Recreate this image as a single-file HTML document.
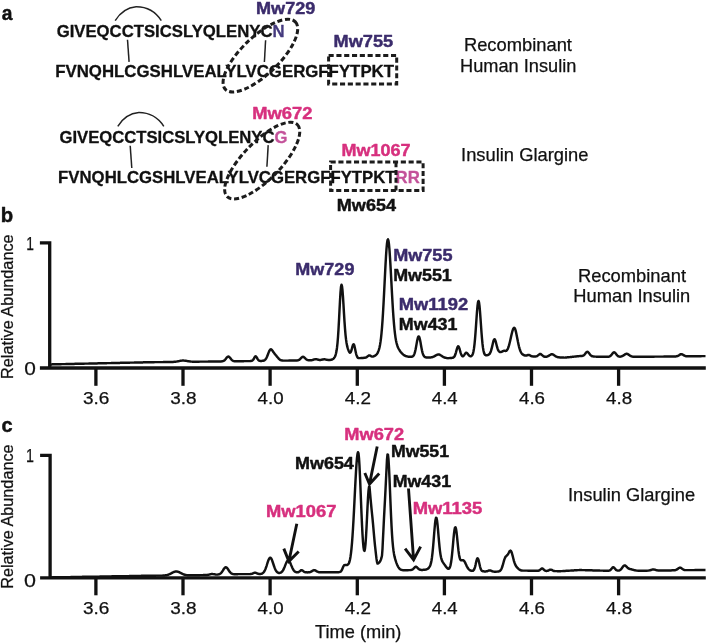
<!DOCTYPE html>
<html><head><meta charset="utf-8"><title>Figure</title>
<style>html,body{margin:0;padding:0;background:#fff}svg{display:block;filter:blur(0.35px)} text{stroke-width:0.25px;stroke-linejoin:round} text[font-weight=bold]{stroke-width:0.45px} text.sq{stroke-width:0.3px}</style></head>
<body>
<svg width="709" height="643" viewBox="0 0 709 643" font-family="'Liberation Sans', Arial, Helvetica, sans-serif" fill="#111111">
<rect width="709" height="643" fill="#fff"/>
<!-- panel a -->
<text x="1.64" y="19.8" font-size="20" font-weight="bold" fill="#111111" stroke="#111111" textLength="10.68" lengthAdjust="spacingAndGlyphs">a</text>
<text x="56.66" y="36.9" font-size="16.5" font-weight="bold" fill="#111111" stroke="#111111" textLength="227.90" lengthAdjust="spacingAndGlyphs" class="sq">GIVEQCCTSICSLYQLENYC<tspan fill="#453a7e" stroke="#453a7e">N</tspan></text>
<text x="55.24" y="76.8" font-size="16.5" font-weight="bold" fill="#111111" stroke="#111111" textLength="338.78" lengthAdjust="spacingAndGlyphs" class="sq">FVNQHLCGSHLVEALYLVCGERGFFYTPKT</text>
<text x="59.47" y="142.6" font-size="16.5" font-weight="bold" fill="#111111" stroke="#111111" textLength="228.01" lengthAdjust="spacingAndGlyphs" class="sq">GIVEQCCTSICSLYQLENYC<tspan fill="#c4529a" stroke="#c4529a">G</tspan></text>
<text x="58.14" y="183.0" font-size="16.5" font-weight="bold" fill="#111111" stroke="#111111" textLength="361.65" lengthAdjust="spacingAndGlyphs" class="sq">FVNQHLCGSHLVEALYLVCGERGFFYTPKT<tspan fill="#c4529a" stroke="#c4529a">RR</tspan></text>
<g fill="none" stroke="#222" stroke-width="1.5">
<path d="M115.2 20.6 C120.5 12 128 7.4 136.1 6.7 C146 6.6 155.5 11.5 161.3 20.6"/>
<path d="M127.5 39.8 L129.1 61.9"/>
<path d="M265.6 40.2 L264.4 62"/>
<path d="M117.8 126.3 C123 117.8 130.5 113.2 138.8 112.5 C148.5 112.4 158 117.3 163.8 126.3"/>
<path d="M130.2 145.7 L131.8 168"/>
<path d="M268.2 145.1 L266.9 166.8"/>
</g>
<g fill="none" stroke="#1c1c1c" stroke-width="3" stroke-dasharray="5.1 2.7">
<ellipse cx="260.4" cy="55.6" rx="48.6" ry="18.8" transform="rotate(-44 260.4 55.6)"/>
<ellipse cx="262.2" cy="160.6" rx="50.3" ry="18.8" transform="rotate(-45.8 262.2 160.6)"/>
<rect x="328.6" y="55.5" width="68.1" height="28.5"/>
<rect x="330.6" y="162.1" width="92.5" height="28.5"/>
<path d="M396 162.1 V190.6"/>
</g>
<text x="256.06" y="14.1" font-size="16.5" font-weight="bold" fill="#3b2c6c" stroke="#3b2c6c" textLength="59.25" lengthAdjust="spacingAndGlyphs">Mw729</text>
<text x="333.55" y="47.2" font-size="16.5" font-weight="bold" fill="#3b2c6c" stroke="#3b2c6c" textLength="59.60" lengthAdjust="spacingAndGlyphs">Mw755</text>
<text x="252.34" y="119.4" font-size="16.5" font-weight="bold" fill="#d7307e" stroke="#d7307e" textLength="60.13" lengthAdjust="spacingAndGlyphs">Mw672</text>
<text x="341.46" y="156.4" font-size="16.5" font-weight="bold" fill="#d7307e" stroke="#d7307e" textLength="69.07" lengthAdjust="spacingAndGlyphs">Mw1067</text>
<text x="336.86" y="210.5" font-size="16.5" font-weight="bold" fill="#111111" stroke="#111111" textLength="59.08" lengthAdjust="spacingAndGlyphs">Mw654</text>
<text x="463.95" y="51.0" font-size="17.8" fill="#111111" stroke="#111111" textLength="108.03" lengthAdjust="spacingAndGlyphs">Recombinant</text>
<text x="460.06" y="71.7" font-size="17.8" fill="#111111" stroke="#111111" textLength="116.36" lengthAdjust="spacingAndGlyphs">Human Insulin</text>
<text x="461.06" y="160.5" font-size="17.8" fill="#111111" stroke="#111111" textLength="127.40" lengthAdjust="spacingAndGlyphs">Insulin Glargine</text>
<!-- panel b -->
<text x="0.88" y="222.2" font-size="19.5" font-weight="bold" fill="#111111" stroke="#111111" textLength="12.40" lengthAdjust="spacingAndGlyphs">b</text>
<g stroke="#111111" stroke-width="3.3" fill="none" stroke-linecap="butt">
<path d="M39.9 242.9 H49.7 M49.7 241.3 V368 M39.9 368 H705.8"/>
<line x1="95.9" y1="368" x2="95.9" y2="385.8"/>
<line x1="183.0" y1="368" x2="183.0" y2="385.8"/>
<line x1="270.1" y1="368" x2="270.1" y2="385.8"/>
<line x1="357.3" y1="368" x2="357.3" y2="385.8"/>
<line x1="444.4" y1="368" x2="444.4" y2="385.8"/>
<line x1="531.5" y1="368" x2="531.5" y2="385.8"/>
<line x1="618.6" y1="368" x2="618.6" y2="385.8"/>
<path d="M40.1 455.3 H50.1 M50.1 453.7 V577.95 M40.1 577.95 H705.8"/>
<line x1="95.9" y1="577.95" x2="95.9" y2="595.3"/>
<line x1="183.0" y1="577.95" x2="183.0" y2="595.3"/>
<line x1="270.1" y1="577.95" x2="270.1" y2="595.3"/>
<line x1="357.3" y1="577.95" x2="357.3" y2="595.3"/>
<line x1="444.4" y1="577.95" x2="444.4" y2="595.3"/>
<line x1="531.5" y1="577.95" x2="531.5" y2="595.3"/>
<line x1="618.6" y1="577.95" x2="618.6" y2="595.3"/>
</g>
<g fill="none" stroke="#111111" stroke-width="2.45" stroke-linejoin="round">
<path d="M50.5 364.4 L51.0 364.4 L51.5 364.4 L52.0 364.4 L52.5 364.3 L53.0 364.3 L53.5 364.3 L54.0 364.3 L54.5 364.3 L55.0 364.3 L55.5 364.3 L56.0 364.3 L56.5 364.3 L57.0 364.2 L57.5 364.2 L58.0 364.2 L58.5 364.2 L59.0 364.2 L59.5 364.2 L60.0 364.2 L60.5 364.2 L61.0 364.2 L61.5 364.1 L62.0 364.1 L62.5 364.1 L63.0 364.1 L63.5 364.1 L64.0 364.1 L64.5 364.1 L65.0 364.1 L65.5 364.1 L66.0 364.0 L66.5 364.0 L67.0 364.0 L67.5 364.0 L68.0 364.0 L68.5 364.0 L69.0 364.0 L69.5 364.0 L70.0 364.0 L70.5 363.9 L71.0 363.9 L71.5 363.9 L72.0 363.9 L72.5 363.9 L73.0 363.9 L73.5 363.9 L74.0 363.9 L74.5 363.9 L75.0 363.8 L75.5 363.8 L76.0 363.8 L76.5 363.8 L77.0 363.8 L77.5 363.8 L78.0 363.8 L78.5 363.8 L79.0 363.8 L79.5 363.8 L80.0 363.7 L80.5 363.7 L81.0 363.7 L81.5 363.7 L82.0 363.7 L82.5 363.7 L83.0 363.7 L83.5 363.7 L84.0 363.7 L84.5 363.6 L85.0 363.6 L85.5 363.6 L86.0 363.6 L86.5 363.6 L87.0 363.6 L87.5 363.6 L88.0 363.6 L88.5 363.6 L89.0 363.5 L89.5 363.5 L90.0 363.5 L90.5 363.5 L91.0 363.5 L91.5 363.5 L92.0 363.5 L92.5 363.5 L93.0 363.5 L93.5 363.4 L94.0 363.4 L94.5 363.4 L95.0 363.4 L95.5 363.4 L96.0 363.4 L96.5 363.4 L97.0 363.4 L97.5 363.4 L98.0 363.3 L98.5 363.3 L99.0 363.3 L99.5 363.3 L100.0 363.3 L100.5 363.3 L101.0 363.3 L101.5 363.3 L102.0 363.3 L102.5 363.2 L103.0 363.2 L103.5 363.2 L104.0 363.2 L104.5 363.2 L105.0 363.2 L105.5 363.2 L106.0 363.2 L106.5 363.2 L107.0 363.1 L107.5 363.1 L108.0 363.1 L108.5 363.1 L109.0 363.1 L109.5 363.1 L110.0 363.1 L110.5 363.1 L111.0 363.1 L111.5 363.0 L112.0 363.0 L112.5 363.0 L113.0 363.0 L113.5 363.0 L114.0 363.0 L114.5 363.0 L115.0 363.0 L115.5 363.0 L116.0 362.9 L116.5 362.9 L117.0 362.9 L117.5 362.9 L118.0 362.9 L118.5 362.9 L119.0 362.9 L119.5 362.9 L120.0 362.9 L120.5 362.8 L121.0 362.8 L121.5 362.8 L122.0 362.8 L122.5 362.8 L123.0 362.8 L123.5 362.8 L124.0 362.8 L124.5 362.8 L125.0 362.8 L125.5 362.7 L126.0 362.7 L126.5 362.7 L127.0 362.7 L127.5 362.7 L128.0 362.7 L128.5 362.7 L129.0 362.7 L129.5 362.7 L130.0 362.6 L130.5 362.6 L131.0 362.6 L131.5 362.6 L132.0 362.6 L132.5 362.6 L133.0 362.6 L133.5 362.6 L134.0 362.6 L134.5 362.5 L135.0 362.5 L135.5 362.5 L136.0 362.5 L136.5 362.5 L137.0 362.5 L137.5 362.5 L138.0 362.5 L138.5 362.5 L139.0 362.4 L139.5 362.4 L140.0 362.4 L140.5 362.4 L141.0 362.4 L141.5 362.4 L142.0 362.4 L142.5 362.4 L143.0 362.4 L143.5 362.3 L144.0 362.3 L144.5 362.3 L145.0 362.3 L145.5 362.3 L146.0 362.3 L146.5 362.3 L147.0 362.3 L147.5 362.3 L148.0 362.2 L148.5 362.2 L149.0 362.2 L149.5 362.2 L150.0 362.2 L150.5 362.2 L151.0 362.2 L151.5 362.2 L152.0 362.2 L152.5 362.2 L153.0 362.2 L153.5 362.2 L154.0 362.2 L154.5 362.1 L155.0 362.1 L155.5 362.1 L156.0 362.1 L156.5 362.1 L157.0 362.1 L157.5 362.1 L158.0 362.1 L158.5 362.1 L159.0 362.1 L159.5 362.1 L160.0 362.1 L160.5 362.1 L161.0 362.1 L161.5 362.1 L162.0 362.1 L162.5 362.1 L163.0 362.1 L163.5 362.0 L164.0 362.0 L164.5 362.0 L165.0 362.0 L165.5 362.0 L166.0 362.0 L166.5 362.0 L167.0 362.0 L167.5 362.0 L168.0 362.0 L168.5 362.0 L169.0 362.0 L169.5 362.0 L170.0 362.0 L170.5 362.0 L171.0 362.0 L171.5 361.9 L172.0 361.9 L172.5 361.9 L173.0 361.9 L173.5 361.9 L174.0 361.8 L174.5 361.8 L175.0 361.7 L175.5 361.7 L176.0 361.6 L176.5 361.6 L177.0 361.5 L177.5 361.4 L178.0 361.3 L178.5 361.2 L179.0 361.1 L179.5 361.0 L180.0 360.9 L180.5 360.8 L181.0 360.7 L181.5 360.6 L182.0 360.6 L182.5 360.5 L183.0 360.5 L183.5 360.5 L184.0 360.6 L184.5 360.6 L185.0 360.7 L185.5 360.7 L186.0 360.8 L186.5 360.9 L187.0 361.0 L187.5 361.1 L188.0 361.2 L188.5 361.3 L189.0 361.3 L189.5 361.4 L190.0 361.5 L190.5 361.5 L191.0 361.6 L191.5 361.6 L192.0 361.6 L192.5 361.7 L193.0 361.7 L193.5 361.7 L194.0 361.7 L194.5 361.7 L195.0 361.7 L195.5 361.7 L196.0 361.7 L196.5 361.7 L197.0 361.7 L197.5 361.7 L198.0 361.7 L198.5 361.7 L199.0 361.7 L199.5 361.6 L200.0 361.6 L200.5 361.6 L201.0 361.6 L201.5 361.6 L202.0 361.6 L202.5 361.6 L203.0 361.6 L203.5 361.6 L204.0 361.6 L204.5 361.6 L205.0 361.6 L205.5 361.6 L206.0 361.6 L206.5 361.6 L207.0 361.6 L207.5 361.6 L208.0 361.6 L208.5 361.5 L209.0 361.5 L209.5 361.5 L210.0 361.5 L210.5 361.5 L211.0 361.5 L211.5 361.5 L212.0 361.5 L212.5 361.5 L213.0 361.5 L213.5 361.5 L214.0 361.5 L214.5 361.5 L215.0 361.5 L215.5 361.5 L216.0 361.5 L216.5 361.5 L217.0 361.5 L217.5 361.4 L218.0 361.4 L218.5 361.4 L219.0 361.4 L219.5 361.4 L220.0 361.4 L220.5 361.4 L221.0 361.4 L221.5 361.4 L222.0 361.3 L222.5 361.2 L223.0 361.1 L223.5 360.9 L224.0 360.7 L224.5 360.3 L225.0 359.8 L225.5 359.2 L226.0 358.6 L226.5 357.9 L227.0 357.3 L227.5 356.8 L228.0 356.6 L228.5 356.5 L229.0 356.8 L229.5 357.2 L230.0 357.8 L230.5 358.4 L231.0 359.0 L231.5 359.6 L232.0 360.1 L232.5 360.5 L233.0 360.8 L233.5 361.0 L234.0 361.1 L234.5 361.2 L235.0 361.2 L235.5 361.2 L236.0 361.2 L236.5 361.2 L237.0 361.2 L237.5 361.2 L238.0 361.2 L238.5 361.2 L239.0 361.2 L239.5 361.2 L240.0 361.2 L240.5 361.2 L241.0 361.2 L241.5 361.2 L242.0 361.2 L242.5 361.2 L243.0 361.2 L243.5 361.2 L244.0 361.1 L244.5 361.1 L245.0 361.1 L245.5 361.1 L246.0 361.1 L246.5 361.1 L247.0 361.1 L247.5 361.1 L248.0 361.1 L248.5 361.1 L249.0 361.1 L249.5 361.1 L250.0 361.1 L250.5 361.0 L251.0 361.0 L251.5 360.9 L252.0 360.8 L252.5 360.5 L253.0 360.0 L253.5 359.3 L254.0 358.4 L254.5 357.4 L255.0 356.7 L255.5 356.3 L256.0 356.5 L256.5 357.1 L257.0 357.9 L257.5 358.9 L258.0 359.7 L258.5 360.2 L259.0 360.6 L259.5 360.8 L260.0 360.9 L260.5 360.9 L261.0 360.9 L261.5 360.9 L262.0 360.9 L262.5 360.8 L263.0 360.8 L263.5 360.7 L264.0 360.5 L264.5 360.3 L265.0 359.9 L265.5 359.4 L266.0 358.7 L266.5 357.8 L267.0 356.8 L267.5 355.5 L268.0 354.2 L268.5 352.9 L269.0 351.6 L269.5 350.6 L270.0 349.8 L270.5 349.4 L271.0 349.3 L271.5 349.6 L272.0 350.1 L272.5 350.7 L273.0 351.5 L273.5 352.2 L274.0 352.9 L274.5 353.6 L275.0 354.2 L275.5 354.8 L276.0 355.3 L276.5 356.0 L277.0 356.6 L277.5 357.2 L278.0 357.8 L278.5 358.4 L279.0 359.0 L279.5 359.4 L280.0 359.8 L280.5 360.0 L281.0 360.3 L281.5 360.4 L282.0 360.5 L282.5 360.5 L283.0 360.6 L283.5 360.6 L284.0 360.6 L284.5 360.6 L285.0 360.6 L285.5 360.6 L286.0 360.6 L286.5 360.6 L287.0 360.6 L287.5 360.6 L288.0 360.6 L288.5 360.6 L289.0 360.5 L289.5 360.5 L290.0 360.5 L290.5 360.5 L291.0 360.5 L291.5 360.5 L292.0 360.5 L292.5 360.5 L293.0 360.5 L293.5 360.5 L294.0 360.5 L294.5 360.5 L295.0 360.5 L295.5 360.5 L296.0 360.4 L296.5 360.4 L297.0 360.4 L297.5 360.4 L298.0 360.3 L298.5 360.1 L299.0 359.9 L299.5 359.6 L300.0 359.2 L300.5 358.7 L301.0 358.2 L301.5 357.7 L302.0 357.2 L302.5 356.9 L303.0 356.8 L303.5 356.9 L304.0 357.2 L304.5 357.6 L305.0 358.2 L305.5 358.7 L306.0 359.2 L306.5 359.5 L307.0 359.8 L307.5 360.0 L308.0 360.1 L308.5 360.2 L309.0 360.3 L309.5 360.3 L310.0 360.3 L310.5 360.2 L311.0 360.2 L311.5 360.2 L312.0 360.1 L312.5 360.0 L313.0 359.8 L313.5 359.7 L314.0 359.5 L314.5 359.4 L315.0 359.3 L315.5 359.2 L316.0 359.2 L316.5 359.3 L317.0 359.4 L317.5 359.5 L318.0 359.7 L318.5 359.8 L319.0 359.9 L319.5 359.9 L320.0 360.0 L320.5 359.9 L321.0 359.9 L321.5 359.8 L322.0 359.7 L322.5 359.5 L323.0 359.4 L323.5 359.4 L324.0 359.3 L324.5 359.3 L325.0 359.4 L325.5 359.5 L326.0 359.6 L326.5 359.7 L327.0 359.8 L327.5 359.9 L328.0 360.0 L328.5 360.0 L329.0 360.0 L329.5 360.0 L330.0 359.9 L330.5 359.9 L331.0 359.8 L331.5 359.7 L332.0 359.5 L332.5 359.3 L333.0 359.0 L333.5 358.6 L334.0 358.1 L334.5 357.4 L335.0 356.5 L335.5 355.2 L336.0 353.5 L336.5 351.1 L337.0 347.7 L337.5 343.1 L338.0 337.0 L338.5 329.3 L339.0 320.2 L339.5 310.3 L340.0 300.7 L340.5 292.4 L341.0 286.8 L341.5 284.7 L342.0 286.1 L342.5 290.5 L343.0 297.1 L343.5 305.1 L344.0 313.6 L344.5 321.6 L345.0 328.7 L345.5 334.6 L346.0 339.2 L346.5 342.7 L347.0 345.4 L347.5 347.4 L348.0 349.1 L348.5 350.4 L349.0 351.5 L349.5 352.3 L350.0 352.7 L350.5 352.5 L351.0 351.6 L351.5 350.2 L352.0 348.3 L352.5 346.3 L353.0 344.8 L353.5 344.2 L354.0 344.7 L354.5 346.2 L355.0 348.4 L355.5 350.9 L356.0 353.2 L356.5 355.1 L357.0 356.4 L357.5 357.3 L358.0 357.8 L358.5 358.0 L359.0 358.1 L359.5 358.1 L360.0 358.1 L360.5 358.1 L361.0 358.0 L361.5 358.0 L362.0 358.0 L362.5 357.9 L363.0 357.9 L363.5 357.9 L364.0 357.8 L364.5 357.8 L365.0 357.7 L365.5 357.6 L366.0 357.5 L366.5 357.2 L367.0 356.9 L367.5 356.5 L368.0 356.0 L368.5 355.7 L369.0 355.4 L369.5 355.4 L370.0 355.5 L370.5 355.8 L371.0 356.2 L371.5 356.4 L372.0 356.6 L372.5 356.6 L373.0 356.6 L373.5 356.4 L374.0 356.2 L374.5 356.0 L375.0 355.7 L375.5 355.4 L376.0 355.0 L376.5 354.5 L377.0 353.9 L377.5 353.1 L378.0 352.1 L378.5 350.9 L379.0 349.4 L379.5 347.5 L380.0 345.0 L380.5 341.9 L381.0 338.1 L381.5 333.3 L382.0 327.6 L382.5 320.8 L383.0 313.0 L383.5 304.3 L384.0 294.7 L384.5 284.7 L385.0 274.7 L385.5 265.0 L386.0 256.2 L386.5 248.9 L387.0 243.4 L387.5 240.1 L388.0 239.3 L388.5 240.8 L389.0 244.5 L389.5 250.2 L390.0 257.5 L390.5 265.9 L391.0 275.0 L391.5 284.4 L392.0 293.7 L392.5 302.5 L393.0 310.7 L393.5 317.9 L394.0 324.2 L394.5 329.5 L395.0 333.9 L395.5 337.6 L396.0 340.5 L396.5 342.8 L397.0 344.7 L397.5 346.2 L398.0 347.5 L398.5 348.5 L399.0 349.4 L399.5 350.2 L400.0 351.0 L400.5 351.7 L401.0 352.3 L401.5 352.9 L402.0 353.4 L402.5 353.9 L403.0 354.4 L403.5 354.8 L404.0 355.1 L404.5 355.5 L405.0 355.7 L405.5 356.0 L406.0 356.1 L406.5 356.3 L407.0 356.4 L407.5 356.5 L408.0 356.6 L408.5 356.7 L409.0 356.7 L409.5 356.7 L410.0 356.7 L410.5 356.8 L411.0 356.8 L411.5 356.7 L412.0 356.7 L412.5 356.5 L413.0 356.2 L413.5 355.7 L414.0 354.8 L414.5 353.6 L415.0 351.9 L415.5 349.8 L416.0 347.2 L416.5 344.4 L417.0 341.6 L417.5 339.2 L418.0 337.3 L418.5 336.4 L419.0 336.6 L419.5 337.7 L420.0 339.7 L420.5 342.3 L421.0 345.2 L421.5 348.0 L422.0 350.5 L422.5 352.6 L423.0 354.2 L423.5 355.4 L424.0 356.2 L424.5 356.7 L425.0 357.1 L425.5 357.2 L426.0 357.4 L426.5 357.4 L427.0 357.5 L427.5 357.5 L428.0 357.5 L428.5 357.5 L429.0 357.5 L429.5 357.5 L430.0 357.5 L430.5 357.5 L431.0 357.4 L431.5 357.3 L432.0 357.2 L432.5 357.1 L433.0 356.9 L433.5 356.7 L434.0 356.5 L434.5 356.2 L435.0 355.9 L435.5 355.6 L436.0 355.3 L436.5 355.0 L437.0 354.8 L437.5 354.6 L438.0 354.5 L438.5 354.5 L439.0 354.5 L439.5 354.7 L440.0 354.9 L440.5 355.2 L441.0 355.5 L441.5 355.8 L442.0 356.1 L442.5 356.5 L443.0 356.8 L443.5 357.0 L444.0 357.3 L444.5 357.5 L445.0 357.7 L445.5 357.8 L446.0 357.9 L446.5 358.0 L447.0 358.1 L447.5 358.1 L448.0 358.2 L448.5 358.1 L449.0 358.1 L449.5 358.1 L450.0 358.0 L450.5 358.0 L451.0 358.0 L451.5 357.9 L452.0 357.9 L452.5 357.8 L453.0 357.7 L453.5 357.4 L454.0 357.0 L454.5 356.4 L455.0 355.4 L455.5 354.0 L456.0 352.3 L456.5 350.4 L457.0 348.6 L457.5 347.1 L458.0 346.3 L458.5 346.4 L459.0 347.3 L459.5 348.7 L460.0 350.5 L460.5 352.3 L461.0 353.9 L461.5 355.1 L462.0 355.8 L462.5 356.2 L463.0 356.2 L463.5 355.8 L464.0 355.3 L464.5 354.6 L465.0 353.8 L465.5 353.2 L466.0 352.8 L466.5 352.7 L467.0 353.0 L467.5 353.5 L468.0 354.2 L468.5 354.9 L469.0 355.5 L469.5 355.9 L470.0 356.1 L470.5 356.3 L471.0 356.2 L471.5 356.0 L472.0 355.5 L472.5 354.7 L473.0 353.4 L473.5 351.3 L474.0 348.4 L474.5 344.3 L475.0 339.1 L475.5 332.8 L476.0 325.8 L476.5 318.5 L477.0 311.6 L477.5 306.0 L478.0 302.2 L478.5 300.9 L479.0 302.2 L479.5 305.9 L480.0 311.5 L480.5 318.3 L481.0 325.5 L481.5 332.5 L482.0 338.7 L482.5 343.9 L483.0 347.9 L483.5 350.7 L484.0 352.7 L484.5 354.0 L485.0 354.7 L485.5 355.1 L486.0 355.3 L486.5 355.3 L487.0 355.2 L487.5 355.1 L488.0 355.0 L488.5 354.7 L489.0 354.4 L489.5 354.0 L490.0 353.3 L490.5 352.3 L491.0 350.9 L491.5 349.2 L492.0 347.1 L492.5 344.9 L493.0 342.7 L493.5 340.8 L494.0 339.6 L494.5 339.2 L495.0 339.7 L495.5 340.9 L496.0 342.7 L496.5 344.7 L497.0 346.7 L497.5 348.4 L498.0 349.8 L498.5 350.7 L499.0 351.4 L499.5 351.8 L500.0 352.0 L500.5 352.1 L501.0 352.0 L501.5 351.9 L502.0 351.7 L502.5 351.4 L503.0 351.1 L503.5 350.9 L504.0 350.8 L504.5 350.8 L505.0 350.9 L505.5 351.0 L506.0 350.9 L506.5 350.6 L507.0 350.1 L507.5 349.4 L508.0 348.3 L508.5 347.0 L509.0 345.4 L509.5 343.5 L510.0 341.5 L510.5 339.3 L511.0 337.0 L511.5 334.8 L512.0 332.7 L512.5 330.8 L513.0 329.3 L513.5 328.3 L514.0 327.8 L514.5 327.9 L515.0 328.7 L515.5 330.1 L516.0 332.1 L516.5 334.4 L517.0 336.9 L517.5 339.5 L518.0 342.1 L518.5 344.4 L519.0 346.6 L519.5 348.4 L520.0 350.0 L520.5 351.3 L521.0 352.3 L521.5 353.1 L522.0 353.8 L522.5 354.3 L523.0 354.6 L523.5 354.9 L524.0 355.2 L524.5 355.3 L525.0 355.5 L525.5 355.5 L526.0 355.5 L526.5 355.5 L527.0 355.3 L527.5 355.2 L528.0 355.0 L528.5 355.0 L529.0 355.0 L529.5 355.2 L530.0 355.4 L530.5 355.7 L531.0 356.0 L531.5 356.2 L532.0 356.3 L532.5 356.4 L533.0 356.5 L533.5 356.5 L534.0 356.5 L534.5 356.5 L535.0 356.5 L535.5 356.5 L536.0 356.4 L536.5 356.3 L537.0 356.1 L537.5 355.8 L538.0 355.4 L538.5 355.0 L539.0 354.6 L539.5 354.2 L540.0 354.0 L540.5 354.0 L541.0 354.2 L541.5 354.6 L542.0 355.0 L542.5 355.5 L543.0 355.9 L543.5 356.3 L544.0 356.5 L544.5 356.7 L545.0 356.8 L545.5 356.8 L546.0 356.8 L546.5 356.7 L547.0 356.6 L547.5 356.4 L548.0 356.2 L548.5 355.9 L549.0 355.6 L549.5 355.3 L550.0 355.0 L550.5 354.7 L551.0 354.4 L551.5 354.3 L552.0 354.3 L552.5 354.3 L553.0 354.5 L553.5 354.8 L554.0 355.1 L554.5 355.5 L555.0 355.8 L555.5 356.2 L556.0 356.5 L556.5 356.7 L557.0 356.9 L557.5 357.1 L558.0 357.2 L558.5 357.3 L559.0 357.3 L559.5 357.4 L560.0 357.4 L560.5 357.4 L561.0 357.5 L561.5 357.5 L562.0 357.5 L562.5 357.5 L563.0 357.5 L563.5 357.5 L564.0 357.6 L564.5 357.6 L565.0 357.6 L565.5 357.5 L566.0 357.5 L566.5 357.4 L567.0 357.4 L567.5 357.3 L568.0 357.3 L568.5 357.2 L569.0 357.2 L569.5 357.1 L570.0 357.1 L570.5 357.0 L571.0 357.0 L571.5 356.9 L572.0 356.9 L572.5 356.8 L573.0 356.7 L573.5 356.7 L574.0 356.6 L574.5 356.6 L575.0 356.5 L575.5 356.5 L576.0 356.4 L576.5 356.4 L577.0 356.3 L577.5 356.3 L578.0 356.2 L578.5 356.2 L579.0 356.1 L579.5 356.1 L580.0 356.0 L580.5 356.0 L581.0 356.0 L581.5 356.0 L582.0 356.0 L582.5 355.9 L583.0 355.7 L583.5 355.5 L584.0 355.1 L584.5 354.6 L585.0 354.0 L585.5 353.4 L586.0 352.7 L586.5 352.2 L587.0 351.9 L587.5 351.8 L588.0 352.0 L588.5 352.5 L589.0 353.1 L589.5 353.8 L590.0 354.5 L590.5 355.1 L591.0 355.5 L591.5 355.9 L592.0 356.2 L592.5 356.3 L593.0 356.4 L593.5 356.5 L594.0 356.5 L594.5 356.6 L595.0 356.6 L595.5 356.6 L596.0 356.6 L596.5 356.7 L597.0 356.7 L597.5 356.7 L598.0 356.7 L598.5 356.7 L599.0 356.8 L599.5 356.8 L600.0 356.8 L600.5 356.8 L601.0 356.8 L601.5 356.8 L602.0 356.8 L602.5 356.8 L603.0 356.8 L603.5 356.8 L604.0 356.8 L604.5 356.8 L605.0 356.8 L605.5 356.8 L606.0 356.8 L606.5 356.8 L607.0 356.8 L607.5 356.8 L608.0 356.8 L608.5 356.7 L609.0 356.6 L609.5 356.5 L610.0 356.2 L610.5 355.9 L611.0 355.4 L611.5 354.9 L612.0 354.2 L612.5 353.5 L613.0 352.9 L613.5 352.5 L614.0 352.3 L614.5 352.4 L615.0 352.7 L615.5 353.3 L616.0 353.9 L616.5 354.6 L617.0 355.2 L617.5 355.7 L618.0 356.1 L618.5 356.4 L619.0 356.5 L619.5 356.6 L620.0 356.7 L620.5 356.6 L621.0 356.5 L621.5 356.4 L622.0 356.2 L622.5 356.0 L623.0 355.7 L623.5 355.4 L624.0 355.1 L624.5 354.7 L625.0 354.4 L625.5 354.1 L626.0 353.9 L626.5 353.8 L627.0 353.8 L627.5 354.0 L628.0 354.2 L628.5 354.6 L629.0 354.9 L629.5 355.3 L630.0 355.6 L630.5 355.9 L631.0 356.2 L631.5 356.4 L632.0 356.5 L632.5 356.6 L633.0 356.7 L633.5 356.7 L634.0 356.8 L634.5 356.8 L635.0 356.8 L635.5 356.8 L636.0 356.8 L636.5 356.8 L637.0 356.8 L637.5 356.8 L638.0 356.8 L638.5 356.8 L639.0 356.8 L639.5 356.8 L640.0 356.8 L640.5 356.8 L641.0 356.8 L641.5 356.8 L642.0 356.8 L642.5 356.8 L643.0 356.8 L643.5 356.8 L644.0 356.8 L644.5 356.8 L645.0 356.7 L645.5 356.7 L646.0 356.7 L646.5 356.7 L647.0 356.7 L647.5 356.7 L648.0 356.7 L648.5 356.7 L649.0 356.7 L649.5 356.7 L650.0 356.7 L650.5 356.7 L651.0 356.7 L651.5 356.7 L652.0 356.7 L652.5 356.7 L653.0 356.7 L653.5 356.7 L654.0 356.7 L654.5 356.6 L655.0 356.6 L655.5 356.6 L656.0 356.6 L656.5 356.6 L657.0 356.6 L657.5 356.6 L658.0 356.6 L658.5 356.6 L659.0 356.6 L659.5 356.6 L660.0 356.6 L660.5 356.6 L661.0 356.6 L661.5 356.6 L662.0 356.6 L662.5 356.6 L663.0 356.6 L663.5 356.6 L664.0 356.5 L664.5 356.5 L665.0 356.5 L665.5 356.5 L666.0 356.5 L666.5 356.5 L667.0 356.5 L667.5 356.5 L668.0 356.5 L668.5 356.5 L669.0 356.5 L669.5 356.5 L670.0 356.5 L670.5 356.5 L671.0 356.5 L671.5 356.5 L672.0 356.5 L672.5 356.5 L673.0 356.4 L673.5 356.4 L674.0 356.4 L674.5 356.4 L675.0 356.4 L675.5 356.4 L676.0 356.4 L676.5 356.3 L677.0 356.2 L677.5 356.0 L678.0 355.8 L678.5 355.6 L679.0 355.3 L679.5 354.9 L680.0 354.6 L680.5 354.3 L681.0 354.2 L681.5 354.2 L682.0 354.3 L682.5 354.5 L683.0 354.8 L683.5 355.1 L684.0 355.4 L684.5 355.7 L685.0 355.9 L685.5 356.1 L686.0 356.2 L686.5 356.2 L687.0 356.3 L687.5 356.3 L688.0 356.3 L688.5 356.3 L689.0 356.3 L689.5 356.3 L690.0 356.3 L690.5 356.3 L691.0 356.3 L691.5 356.3 L692.0 356.2 L692.5 356.2 L693.0 356.2 L693.5 356.2 L694.0 356.2 L694.5 356.2 L695.0 356.2 L695.5 356.2 L696.0 356.2 L696.5 356.2 L697.0 356.2 L697.5 356.2 L698.0 356.2 L698.5 356.2 L699.0 356.2 L699.5 356.2 L700.0 356.2 L700.5 356.2 L701.0 356.2 L701.5 356.1 L702.0 356.1 L702.5 356.1 L703.0 356.1 L703.5 356.1 L704.0 356.1 L704.5 356.1 L705.0 356.1 L705.5 356.1"/>
<path d="M50.5 577.4 L51.0 577.4 L51.5 577.4 L52.0 577.4 L52.5 577.4 L53.0 577.3 L53.5 577.3 L54.0 577.3 L54.5 577.3 L55.0 577.3 L55.5 577.3 L56.0 577.3 L56.5 577.3 L57.0 577.3 L57.5 577.3 L58.0 577.3 L58.5 577.3 L59.0 577.2 L59.5 577.2 L60.0 577.2 L60.5 577.2 L61.0 577.2 L61.5 577.2 L62.0 577.2 L62.5 577.2 L63.0 577.2 L63.5 577.2 L64.0 577.2 L64.5 577.2 L65.0 577.1 L65.5 577.1 L66.0 577.1 L66.5 577.1 L67.0 577.1 L67.5 577.1 L68.0 577.1 L68.5 577.1 L69.0 577.1 L69.5 577.1 L70.0 577.1 L70.5 577.1 L71.0 577.0 L71.5 577.0 L72.0 577.0 L72.5 577.0 L73.0 577.0 L73.5 577.0 L74.0 577.0 L74.5 577.0 L75.0 577.0 L75.5 577.0 L76.0 577.0 L76.5 576.9 L77.0 576.9 L77.5 576.9 L78.0 576.9 L78.5 576.9 L79.0 576.9 L79.5 576.9 L80.0 576.9 L80.5 576.9 L81.0 576.9 L81.5 576.9 L82.0 576.9 L82.5 576.8 L83.0 576.8 L83.5 576.8 L84.0 576.8 L84.5 576.8 L85.0 576.8 L85.5 576.8 L86.0 576.8 L86.5 576.8 L87.0 576.8 L87.5 576.8 L88.0 576.8 L88.5 576.7 L89.0 576.7 L89.5 576.7 L90.0 576.7 L90.5 576.7 L91.0 576.7 L91.5 576.7 L92.0 576.7 L92.5 576.7 L93.0 576.7 L93.5 576.7 L94.0 576.7 L94.5 576.6 L95.0 576.6 L95.5 576.6 L96.0 576.6 L96.5 576.6 L97.0 576.6 L97.5 576.6 L98.0 576.6 L98.5 576.6 L99.0 576.6 L99.5 576.6 L100.0 576.5 L100.5 576.5 L101.0 576.5 L101.5 576.5 L102.0 576.5 L102.5 576.5 L103.0 576.5 L103.5 576.5 L104.0 576.5 L104.5 576.5 L105.0 576.5 L105.5 576.5 L106.0 576.4 L106.5 576.4 L107.0 576.4 L107.5 576.4 L108.0 576.4 L108.5 576.4 L109.0 576.4 L109.5 576.4 L110.0 576.4 L110.5 576.4 L111.0 576.4 L111.5 576.4 L112.0 576.3 L112.5 576.3 L113.0 576.3 L113.5 576.3 L114.0 576.3 L114.5 576.3 L115.0 576.3 L115.5 576.3 L116.0 576.3 L116.5 576.3 L117.0 576.3 L117.5 576.3 L118.0 576.2 L118.5 576.2 L119.0 576.2 L119.5 576.2 L120.0 576.2 L120.5 576.2 L121.0 576.2 L121.5 576.2 L122.0 576.2 L122.5 576.2 L123.0 576.2 L123.5 576.2 L124.0 576.1 L124.5 576.1 L125.0 576.1 L125.5 576.1 L126.0 576.1 L126.5 576.1 L127.0 576.1 L127.5 576.1 L128.0 576.1 L128.5 576.1 L129.0 576.1 L129.5 576.0 L130.0 576.0 L130.5 576.0 L131.0 576.0 L131.5 576.0 L132.0 576.0 L132.5 576.0 L133.0 576.0 L133.5 576.0 L134.0 576.0 L134.5 576.0 L135.0 576.0 L135.5 575.9 L136.0 575.9 L136.5 575.9 L137.0 575.9 L137.5 575.9 L138.0 575.9 L138.5 575.9 L139.0 575.9 L139.5 575.9 L140.0 575.9 L140.5 575.9 L141.0 575.9 L141.5 575.8 L142.0 575.8 L142.5 575.8 L143.0 575.8 L143.5 575.8 L144.0 575.8 L144.5 575.8 L145.0 575.8 L145.5 575.8 L146.0 575.8 L146.5 575.8 L147.0 575.8 L147.5 575.7 L148.0 575.7 L148.5 575.7 L149.0 575.7 L149.5 575.7 L150.0 575.7 L150.5 575.7 L151.0 575.7 L151.5 575.7 L152.0 575.7 L152.5 575.7 L153.0 575.7 L153.5 575.7 L154.0 575.7 L154.5 575.7 L155.0 575.7 L155.5 575.7 L156.0 575.6 L156.5 575.6 L157.0 575.6 L157.5 575.6 L158.0 575.6 L158.5 575.6 L159.0 575.6 L159.5 575.6 L160.0 575.6 L160.5 575.6 L161.0 575.6 L161.5 575.6 L162.0 575.6 L162.5 575.6 L163.0 575.5 L163.5 575.5 L164.0 575.5 L164.5 575.4 L165.0 575.4 L165.5 575.3 L166.0 575.3 L166.5 575.2 L167.0 575.1 L167.5 574.9 L168.0 574.8 L168.5 574.6 L169.0 574.4 L169.5 574.2 L170.0 574.0 L170.5 573.7 L171.0 573.5 L171.5 573.2 L172.0 572.9 L172.5 572.6 L173.0 572.4 L173.5 572.2 L174.0 571.9 L174.5 571.8 L175.0 571.6 L175.5 571.5 L176.0 571.5 L176.5 571.5 L177.0 571.5 L177.5 571.6 L178.0 571.8 L178.5 571.9 L179.0 572.1 L179.5 572.4 L180.0 572.6 L180.5 572.9 L181.0 573.2 L181.5 573.4 L182.0 573.7 L182.5 573.9 L183.0 574.1 L183.5 574.3 L184.0 574.5 L184.5 574.7 L185.0 574.8 L185.5 574.9 L186.0 575.0 L186.5 575.1 L187.0 575.1 L187.5 575.2 L188.0 575.2 L188.5 575.3 L189.0 575.3 L189.5 575.3 L190.0 575.3 L190.5 575.3 L191.0 575.3 L191.5 575.3 L192.0 575.3 L192.5 575.3 L193.0 575.3 L193.5 575.3 L194.0 575.3 L194.5 575.3 L195.0 575.3 L195.5 575.3 L196.0 575.3 L196.5 575.3 L197.0 575.2 L197.5 575.2 L198.0 575.2 L198.5 575.2 L199.0 575.2 L199.5 575.2 L200.0 575.1 L200.5 575.1 L201.0 575.1 L201.5 575.1 L202.0 575.1 L202.5 575.1 L203.0 575.1 L203.5 575.0 L204.0 575.0 L204.5 575.0 L205.0 575.0 L205.5 575.0 L206.0 575.0 L206.5 574.9 L207.0 574.9 L207.5 574.9 L208.0 574.8 L208.5 574.7 L209.0 574.6 L209.5 574.5 L210.0 574.4 L210.5 574.2 L211.0 574.1 L211.5 574.0 L212.0 574.0 L212.5 574.0 L213.0 574.1 L213.5 574.1 L214.0 574.2 L214.5 574.3 L215.0 574.4 L215.5 574.5 L216.0 574.6 L216.5 574.6 L217.0 574.6 L217.5 574.6 L218.0 574.5 L218.5 574.4 L219.0 574.3 L219.5 574.1 L220.0 573.9 L220.5 573.5 L221.0 573.1 L221.5 572.5 L222.0 571.9 L222.5 571.1 L223.0 570.3 L223.5 569.5 L224.0 568.7 L224.5 568.1 L225.0 567.6 L225.5 567.3 L226.0 567.3 L226.5 567.5 L227.0 567.9 L227.5 568.5 L228.0 569.2 L228.5 570.0 L229.0 570.8 L229.5 571.5 L230.0 572.2 L230.5 572.7 L231.0 573.2 L231.5 573.5 L232.0 573.8 L232.5 573.9 L233.0 574.1 L233.5 574.1 L234.0 574.2 L234.5 574.2 L235.0 574.2 L235.5 574.2 L236.0 574.2 L236.5 574.2 L237.0 574.2 L237.5 574.2 L238.0 574.1 L238.5 574.1 L239.0 574.1 L239.5 574.1 L240.0 574.1 L240.5 574.1 L241.0 574.1 L241.5 574.1 L242.0 574.1 L242.5 574.1 L243.0 574.1 L243.5 574.1 L244.0 574.1 L244.5 574.1 L245.0 574.1 L245.5 574.1 L246.0 574.1 L246.5 574.1 L247.0 574.1 L247.5 574.1 L248.0 574.1 L248.5 574.1 L249.0 574.1 L249.5 574.1 L250.0 574.1 L250.5 574.0 L251.0 574.0 L251.5 573.9 L252.0 573.8 L252.5 573.6 L253.0 573.3 L253.5 573.1 L254.0 572.9 L254.5 572.8 L255.0 572.7 L255.5 572.8 L256.0 572.9 L256.5 573.1 L257.0 573.3 L257.5 573.6 L258.0 573.7 L258.5 573.9 L259.0 574.0 L259.5 574.0 L260.0 574.0 L260.5 574.0 L261.0 573.9 L261.5 573.8 L262.0 573.6 L262.5 573.3 L263.0 573.0 L263.5 572.5 L264.0 571.8 L264.5 571.0 L265.0 570.0 L265.5 568.9 L266.0 567.5 L266.5 566.1 L267.0 564.5 L267.5 562.9 L268.0 561.4 L268.5 560.0 L269.0 558.9 L269.5 558.2 L270.0 557.8 L270.5 557.8 L271.0 558.2 L271.5 559.0 L272.0 560.1 L272.5 561.5 L273.0 563.0 L273.5 564.5 L274.0 566.0 L274.5 567.4 L275.0 568.7 L275.5 569.8 L276.0 570.7 L276.5 571.4 L277.0 572.0 L277.5 572.4 L278.0 572.7 L278.5 572.9 L279.0 572.9 L279.5 573.0 L280.0 572.9 L280.5 572.7 L281.0 572.5 L281.5 572.2 L282.0 571.7 L282.5 571.1 L283.0 570.4 L283.5 569.4 L284.0 568.4 L284.5 567.2 L285.0 565.9 L285.5 564.6 L286.0 563.4 L286.5 562.3 L287.0 561.4 L287.5 560.7 L288.0 560.4 L288.5 560.4 L289.0 560.7 L289.5 561.4 L290.0 562.3 L290.5 563.4 L291.0 564.7 L291.5 565.9 L292.0 567.1 L292.5 568.2 L293.0 569.2 L293.5 570.0 L294.0 570.7 L294.5 571.3 L295.0 571.7 L295.5 571.9 L296.0 572.1 L296.5 572.3 L297.0 572.3 L297.5 572.3 L298.0 572.3 L298.5 572.1 L299.0 571.8 L299.5 571.5 L300.0 571.1 L300.5 570.7 L301.0 570.3 L301.5 570.2 L302.0 570.3 L302.5 570.5 L303.0 570.9 L303.5 571.3 L304.0 571.7 L304.5 572.0 L305.0 572.1 L305.5 572.3 L306.0 572.3 L306.5 572.3 L307.0 572.4 L307.5 572.4 L308.0 572.3 L308.5 572.3 L309.0 572.3 L309.5 572.2 L310.0 572.1 L310.5 572.0 L311.0 571.7 L311.5 571.5 L312.0 571.1 L312.5 570.8 L313.0 570.5 L313.5 570.3 L314.0 570.1 L314.5 570.2 L315.0 570.3 L315.5 570.5 L316.0 570.9 L316.5 571.2 L317.0 571.5 L317.5 571.7 L318.0 571.9 L318.5 572.1 L319.0 572.2 L319.5 572.2 L320.0 572.3 L320.5 572.3 L321.0 572.3 L321.5 572.3 L322.0 572.3 L322.5 572.3 L323.0 572.3 L323.5 572.3 L324.0 572.3 L324.5 572.3 L325.0 572.3 L325.5 572.3 L326.0 572.3 L326.5 572.3 L327.0 572.3 L327.5 572.3 L328.0 572.3 L328.5 572.3 L329.0 572.3 L329.5 572.3 L330.0 572.2 L330.5 572.2 L331.0 572.2 L331.5 572.2 L332.0 572.2 L332.5 572.2 L333.0 572.2 L333.5 572.2 L334.0 572.2 L334.5 572.2 L335.0 572.2 L335.5 572.2 L336.0 572.2 L336.5 572.2 L337.0 572.2 L337.5 572.2 L338.0 572.2 L338.5 572.2 L339.0 572.1 L339.5 572.1 L340.0 571.9 L340.5 571.7 L341.0 571.3 L341.5 570.6 L342.0 569.7 L342.5 568.5 L343.0 567.3 L343.5 566.1 L344.0 565.4 L344.5 565.1 L345.0 565.0 L345.5 565.0 L346.0 565.0 L346.5 565.0 L347.0 565.0 L347.5 564.8 L348.0 564.5 L348.5 563.9 L349.0 563.0 L349.5 561.5 L350.0 559.5 L350.5 556.7 L351.0 553.1 L351.5 548.5 L352.0 542.9 L352.5 536.2 L353.0 528.5 L353.5 519.8 L354.0 510.4 L354.5 500.4 L355.0 490.4 L355.5 480.6 L356.0 471.6 L356.5 463.9 L357.0 457.9 L357.5 453.9 L358.0 452.2 L358.5 453.3 L359.0 458.2 L359.5 466.2 L360.0 476.6 L360.5 488.6 L361.0 501.2 L361.5 513.5 L362.0 524.8 L362.5 534.4 L363.0 542.0 L363.5 547.4 L364.0 550.4 L364.5 550.9 L365.0 548.7 L365.5 544.1 L366.0 537.0 L366.5 528.0 L367.0 517.8 L367.5 507.4 L368.0 498.0 L368.5 490.8 L369.0 486.8 L369.5 486.5 L370.0 492.4 L370.5 498.0 L371.0 503.4 L371.5 508.6 L372.0 513.5 L372.5 518.4 L373.0 523.6 L373.5 529.3 L374.0 535.1 L374.5 540.7 L375.0 545.6 L375.5 550.1 L376.0 554.7 L376.5 558.9 L377.0 562.0 L377.5 563.6 L378.0 563.5 L378.5 563.2 L379.0 562.7 L379.5 562.1 L380.0 561.5 L380.5 560.6 L381.0 559.4 L381.5 557.7 L382.0 555.5 L382.5 548.8 L383.0 538.3 L383.5 528.3 L384.0 518.0 L384.5 508.6 L385.0 499.5 L385.5 489.7 L386.0 479.5 L386.5 469.3 L387.0 459.3 L387.5 454.4 L388.0 454.8 L388.5 459.5 L389.0 467.7 L389.5 478.5 L390.0 490.7 L390.5 503.1 L391.0 514.9 L391.5 525.4 L392.0 534.1 L392.5 541.1 L393.0 546.6 L393.5 550.7 L394.0 553.9 L394.5 556.4 L395.0 558.4 L395.5 560.1 L396.0 561.7 L396.5 563.1 L397.0 564.4 L397.5 565.5 L398.0 566.6 L398.5 567.4 L399.0 568.1 L399.5 568.7 L400.0 569.2 L400.5 569.5 L401.0 569.8 L401.5 569.9 L402.0 570.0 L402.5 570.1 L403.0 570.2 L403.5 570.2 L404.0 570.2 L404.5 570.2 L405.0 570.2 L405.5 570.2 L406.0 570.2 L406.5 570.2 L407.0 570.2 L407.5 570.2 L408.0 570.2 L408.5 570.1 L409.0 570.1 L409.5 570.1 L410.0 570.1 L410.5 570.1 L411.0 570.0 L411.5 569.9 L412.0 569.8 L412.5 569.5 L413.0 569.2 L413.5 568.7 L414.0 568.2 L414.5 567.6 L415.0 567.1 L415.5 566.8 L416.0 566.7 L416.5 566.9 L417.0 567.3 L417.5 567.8 L418.0 568.3 L418.5 568.8 L419.0 569.2 L419.5 569.5 L420.0 569.7 L420.5 569.8 L421.0 569.9 L421.5 569.9 L422.0 569.9 L422.5 569.9 L423.0 569.9 L423.5 569.8 L424.0 569.8 L424.5 569.8 L425.0 569.7 L425.5 569.6 L426.0 569.5 L426.5 569.3 L427.0 569.1 L427.5 568.9 L428.0 568.6 L428.5 568.2 L429.0 567.6 L429.5 566.9 L430.0 566.0 L430.5 564.7 L431.0 562.9 L431.5 560.5 L432.0 557.2 L432.5 553.0 L433.0 547.9 L433.5 542.0 L434.0 535.7 L434.5 529.5 L435.0 524.0 L435.5 520.0 L436.0 517.8 L436.5 517.9 L437.0 520.2 L437.5 524.3 L438.0 529.6 L438.5 535.6 L439.0 541.4 L439.5 546.7 L440.0 551.1 L440.5 554.6 L441.0 557.3 L441.5 559.2 L442.0 560.6 L442.5 561.6 L443.0 562.4 L443.5 563.2 L444.0 563.9 L444.5 564.6 L445.0 565.3 L445.5 566.0 L446.0 566.7 L446.5 567.4 L447.0 567.9 L447.5 568.4 L448.0 568.7 L448.5 568.8 L449.0 568.6 L449.5 568.1 L450.0 567.0 L450.5 565.3 L451.0 562.8 L451.5 559.3 L452.0 555.0 L452.5 549.9 L453.0 544.3 L453.5 538.7 L454.0 533.7 L454.5 529.8 L455.0 527.6 L455.5 527.2 L456.0 528.8 L456.5 532.0 L457.0 536.4 L457.5 541.4 L458.0 546.4 L458.5 550.9 L459.0 554.5 L459.5 557.2 L460.0 559.0 L460.5 559.9 L461.0 560.3 L461.5 560.3 L462.0 560.2 L462.5 560.1 L463.0 560.1 L463.5 560.3 L464.0 560.8 L464.5 561.5 L465.0 562.4 L465.5 563.4 L466.0 564.5 L466.5 565.6 L467.0 566.6 L467.5 567.5 L468.0 568.3 L468.5 569.0 L469.0 569.5 L469.5 570.0 L470.0 570.3 L470.5 570.5 L471.0 570.7 L471.5 570.8 L472.0 570.9 L472.5 570.8 L473.0 570.7 L473.5 570.3 L474.0 569.7 L474.5 568.6 L475.0 567.1 L475.5 565.1 L476.0 562.8 L476.5 560.6 L477.0 559.0 L477.5 558.2 L478.0 558.6 L478.5 559.9 L479.0 562.0 L479.5 564.3 L480.0 566.5 L480.5 568.2 L481.0 569.5 L481.5 570.4 L482.0 570.9 L482.5 571.1 L483.0 571.3 L483.5 571.3 L484.0 571.4 L484.5 571.4 L485.0 571.4 L485.5 571.4 L486.0 571.4 L486.5 571.3 L487.0 571.3 L487.5 571.1 L488.0 570.9 L488.5 570.7 L489.0 570.5 L489.5 570.4 L490.0 570.4 L490.5 570.5 L491.0 570.7 L491.5 571.0 L492.0 571.2 L492.5 571.4 L493.0 571.5 L493.5 571.6 L494.0 571.6 L494.5 571.7 L495.0 571.7 L495.5 571.7 L496.0 571.7 L496.5 571.6 L497.0 571.6 L497.5 571.6 L498.0 571.5 L498.5 571.5 L499.0 571.4 L499.5 571.2 L500.0 570.9 L500.5 570.4 L501.0 569.7 L501.5 568.7 L502.0 567.5 L502.5 566.0 L503.0 564.3 L503.5 562.5 L504.0 560.7 L504.5 559.1 L505.0 557.9 L505.5 556.9 L506.0 556.3 L506.5 555.9 L507.0 555.4 L507.5 554.9 L508.0 554.2 L508.5 553.3 L509.0 552.3 L509.5 551.4 L510.0 550.8 L510.5 550.6 L511.0 551.0 L511.5 552.0 L512.0 553.5 L512.5 555.3 L513.0 557.3 L513.5 559.2 L514.0 561.1 L514.5 562.7 L515.0 564.1 L515.5 565.2 L516.0 566.0 L516.5 566.8 L517.0 567.4 L517.5 567.9 L518.0 568.4 L518.5 568.9 L519.0 569.3 L519.5 569.6 L520.0 569.9 L520.5 570.2 L521.0 570.3 L521.5 570.5 L522.0 570.5 L522.5 570.6 L523.0 570.6 L523.5 570.6 L524.0 570.6 L524.5 570.6 L525.0 570.6 L525.5 570.6 L526.0 570.6 L526.5 570.6 L527.0 570.6 L527.5 570.6 L528.0 570.7 L528.5 570.7 L529.0 570.7 L529.5 570.7 L530.0 570.7 L530.5 570.7 L531.0 570.7 L531.5 570.7 L532.0 570.7 L532.5 570.7 L533.0 570.7 L533.5 570.7 L534.0 570.8 L534.5 570.8 L535.0 570.8 L535.5 570.8 L536.0 570.8 L536.5 570.8 L537.0 570.8 L537.5 570.8 L538.0 570.8 L538.5 570.7 L539.0 570.5 L539.5 570.3 L540.0 569.9 L540.5 569.5 L541.0 569.0 L541.5 568.6 L542.0 568.4 L542.5 568.5 L543.0 568.8 L543.5 569.3 L544.0 569.8 L544.5 570.2 L545.0 570.6 L545.5 570.8 L546.0 570.9 L546.5 570.9 L547.0 570.9 L547.5 570.8 L548.0 570.7 L548.5 570.5 L549.0 570.2 L549.5 569.9 L550.0 569.7 L550.5 569.6 L551.0 569.6 L551.5 569.8 L552.0 570.0 L552.5 570.3 L553.0 570.6 L553.5 570.8 L554.0 571.0 L554.5 571.0 L555.0 571.1 L555.5 571.1 L556.0 571.1 L556.5 571.1 L557.0 571.1 L557.5 571.2 L558.0 571.2 L558.5 571.2 L559.0 571.2 L559.5 571.2 L560.0 571.2 L560.5 571.2 L561.0 571.1 L561.5 571.1 L562.0 571.1 L562.5 571.1 L563.0 571.0 L563.5 571.0 L564.0 571.0 L564.5 570.9 L565.0 570.9 L565.5 570.9 L566.0 570.8 L566.5 570.8 L567.0 570.8 L567.5 570.8 L568.0 570.7 L568.5 570.7 L569.0 570.7 L569.5 570.6 L570.0 570.6 L570.5 570.6 L571.0 570.5 L571.5 570.5 L572.0 570.5 L572.5 570.5 L573.0 570.4 L573.5 570.4 L574.0 570.4 L574.5 570.3 L575.0 570.3 L575.5 570.3 L576.0 570.2 L576.5 570.2 L577.0 570.2 L577.5 570.1 L578.0 570.1 L578.5 570.1 L579.0 570.1 L579.5 570.0 L580.0 570.0 L580.5 570.0 L581.0 570.0 L581.5 570.0 L582.0 570.1 L582.5 570.1 L583.0 570.1 L583.5 570.1 L584.0 570.1 L584.5 570.1 L585.0 570.1 L585.5 570.2 L586.0 570.2 L586.5 570.2 L587.0 570.2 L587.5 570.2 L588.0 570.2 L588.5 570.2 L589.0 570.3 L589.5 570.3 L590.0 570.3 L590.5 570.3 L591.0 570.3 L591.5 570.3 L592.0 570.3 L592.5 570.4 L593.0 570.4 L593.5 570.4 L594.0 570.4 L594.5 570.4 L595.0 570.4 L595.5 570.4 L596.0 570.4 L596.5 570.5 L597.0 570.5 L597.5 570.5 L598.0 570.5 L598.5 570.5 L599.0 570.5 L599.5 570.5 L600.0 570.6 L600.5 570.6 L601.0 570.6 L601.5 570.6 L602.0 570.6 L602.5 570.6 L603.0 570.6 L603.5 570.7 L604.0 570.7 L604.5 570.7 L605.0 570.7 L605.5 570.7 L606.0 570.7 L606.5 570.7 L607.0 570.7 L607.5 570.7 L608.0 570.7 L608.5 570.7 L609.0 570.6 L609.5 570.5 L610.0 570.3 L610.5 569.9 L611.0 569.5 L611.5 568.8 L612.0 568.2 L612.5 567.6 L613.0 567.3 L613.5 567.2 L614.0 567.5 L614.5 568.1 L615.0 568.7 L615.5 569.3 L616.0 569.9 L616.5 570.2 L617.0 570.4 L617.5 570.6 L618.0 570.6 L618.5 570.6 L619.0 570.5 L619.5 570.3 L620.0 570.1 L620.5 569.7 L621.0 569.3 L621.5 568.7 L622.0 568.0 L622.5 567.3 L623.0 566.6 L623.5 566.0 L624.0 565.6 L624.5 565.4 L625.0 565.5 L625.5 565.7 L626.0 566.1 L626.5 566.6 L627.0 567.2 L627.5 567.7 L628.0 568.1 L628.5 568.4 L629.0 568.7 L629.5 568.8 L630.0 569.0 L630.5 569.1 L631.0 569.2 L631.5 569.3 L632.0 569.5 L632.5 569.6 L633.0 569.8 L633.5 569.9 L634.0 570.1 L634.5 570.2 L635.0 570.3 L635.5 570.4 L636.0 570.5 L636.5 570.6 L637.0 570.6 L637.5 570.6 L638.0 570.7 L638.5 570.7 L639.0 570.7 L639.5 570.7 L640.0 570.7 L640.5 570.7 L641.0 570.7 L641.5 570.7 L642.0 570.7 L642.5 570.7 L643.0 570.7 L643.5 570.7 L644.0 570.7 L644.5 570.7 L645.0 570.7 L645.5 570.7 L646.0 570.7 L646.5 570.7 L647.0 570.7 L647.5 570.6 L648.0 570.6 L648.5 570.6 L649.0 570.5 L649.5 570.4 L650.0 570.3 L650.5 570.2 L651.0 570.0 L651.5 569.8 L652.0 569.6 L652.5 569.5 L653.0 569.4 L653.5 569.4 L654.0 569.5 L654.5 569.6 L655.0 569.7 L655.5 569.9 L656.0 570.1 L656.5 570.2 L657.0 570.3 L657.5 570.4 L658.0 570.5 L658.5 570.5 L659.0 570.5 L659.5 570.5 L660.0 570.5 L660.5 570.5 L661.0 570.5 L661.5 570.5 L662.0 570.5 L662.5 570.5 L663.0 570.5 L663.5 570.5 L664.0 570.5 L664.5 570.4 L665.0 570.4 L665.5 570.4 L666.0 570.4 L666.5 570.4 L667.0 570.4 L667.5 570.4 L668.0 570.4 L668.5 570.4 L669.0 570.4 L669.5 570.4 L670.0 570.4 L670.5 570.4 L671.0 570.4 L671.5 570.4 L672.0 570.3 L672.5 570.3 L673.0 570.3 L673.5 570.3 L674.0 570.3 L674.5 570.3 L675.0 570.2 L675.5 570.1 L676.0 569.9 L676.5 569.7 L677.0 569.4 L677.5 569.1 L678.0 568.7 L678.5 568.3 L679.0 568.0 L679.5 567.7 L680.0 567.6 L680.5 567.7 L681.0 567.9 L681.5 568.3 L682.0 568.6 L682.5 569.0 L683.0 569.4 L683.5 569.6 L684.0 569.8 L684.5 570.0 L685.0 570.1 L685.5 570.1 L686.0 570.1 L686.5 570.1 L687.0 570.1 L687.5 570.1 L688.0 570.1 L688.5 570.1 L689.0 570.1 L689.5 570.1 L690.0 570.1 L690.5 570.1 L691.0 570.1 L691.5 570.1 L692.0 570.1 L692.5 570.1 L693.0 570.1 L693.5 570.1 L694.0 570.1 L694.5 570.1 L695.0 570.0 L695.5 570.0 L696.0 570.0 L696.5 570.0 L697.0 570.0 L697.5 570.0 L698.0 570.0 L698.5 570.0 L699.0 570.0 L699.5 570.0 L700.0 570.0 L700.5 570.0 L701.0 570.0 L701.5 570.0 L702.0 570.0 L702.5 569.9 L703.0 569.9 L703.5 569.9 L704.0 569.9 L704.5 569.9 L705.0 569.9 L705.5 569.9"/>
</g>
<text x="83.03" y="404.0" font-size="17" fill="#111111" stroke="#111111" textLength="26.44" lengthAdjust="spacingAndGlyphs">3.6</text>
<text x="170.15" y="404.0" font-size="17" fill="#111111" stroke="#111111" textLength="26.44" lengthAdjust="spacingAndGlyphs">3.8</text>
<text x="257.58" y="404.0" font-size="17" fill="#111111" stroke="#111111" textLength="26.03" lengthAdjust="spacingAndGlyphs">4.0</text>
<text x="344.69" y="404.0" font-size="17" fill="#111111" stroke="#111111" textLength="26.26" lengthAdjust="spacingAndGlyphs">4.2</text>
<text x="431.82" y="404.0" font-size="17" fill="#111111" stroke="#111111" textLength="25.85" lengthAdjust="spacingAndGlyphs">4.4</text>
<text x="518.94" y="404.0" font-size="17" fill="#111111" stroke="#111111" textLength="26.12" lengthAdjust="spacingAndGlyphs">4.6</text>
<text x="606.06" y="404.0" font-size="17" fill="#111111" stroke="#111111" textLength="26.12" lengthAdjust="spacingAndGlyphs">4.8</text>
<text x="83.03" y="614.0" font-size="17" fill="#111111" stroke="#111111" textLength="26.44" lengthAdjust="spacingAndGlyphs">3.6</text>
<text x="170.15" y="614.0" font-size="17" fill="#111111" stroke="#111111" textLength="26.44" lengthAdjust="spacingAndGlyphs">3.8</text>
<text x="257.58" y="614.0" font-size="17" fill="#111111" stroke="#111111" textLength="26.03" lengthAdjust="spacingAndGlyphs">4.0</text>
<text x="344.69" y="614.0" font-size="17" fill="#111111" stroke="#111111" textLength="26.26" lengthAdjust="spacingAndGlyphs">4.2</text>
<text x="431.82" y="614.0" font-size="17" fill="#111111" stroke="#111111" textLength="25.85" lengthAdjust="spacingAndGlyphs">4.4</text>
<text x="518.94" y="614.0" font-size="17" fill="#111111" stroke="#111111" textLength="26.12" lengthAdjust="spacingAndGlyphs">4.6</text>
<text x="606.06" y="614.0" font-size="17" fill="#111111" stroke="#111111" textLength="26.12" lengthAdjust="spacingAndGlyphs">4.8</text>
<text x="26.19" y="249.6" font-size="19" fill="#111111" stroke="#111111" textLength="7.72" lengthAdjust="spacingAndGlyphs">1</text>
<text x="24.34" y="375.0" font-size="19" fill="#111111" stroke="#111111" textLength="11.61" lengthAdjust="spacingAndGlyphs">0</text>
<text x="25.96" y="461.6" font-size="19" fill="#111111" stroke="#111111" textLength="7.98" lengthAdjust="spacingAndGlyphs">1</text>
<text x="24.01" y="586.8" font-size="19" fill="#111111" stroke="#111111" textLength="11.96" lengthAdjust="spacingAndGlyphs">0</text>
<g transform="translate(12.7 377.8) rotate(-90)"><text x="-1.18" y="0.0" font-size="16.2" fill="#111111" stroke="#111111" textLength="144.56" lengthAdjust="spacingAndGlyphs">Relative Abundance</text></g>
<g transform="translate(12.7 587.6) rotate(-90)"><text x="-1.18" y="0.0" font-size="16.2" fill="#111111" stroke="#111111" textLength="144.35" lengthAdjust="spacingAndGlyphs">Relative Abundance</text></g>
<text x="295.36" y="275.3" font-size="16.5" font-weight="bold" fill="#3b2c6c" stroke="#3b2c6c" textLength="59.04" lengthAdjust="spacingAndGlyphs">Mw729</text>
<text x="393.16" y="261.0" font-size="16.5" font-weight="bold" fill="#3b2c6c" stroke="#3b2c6c" textLength="59.29" lengthAdjust="spacingAndGlyphs">Mw755</text>
<text x="393.17" y="281.0" font-size="16.5" font-weight="bold" fill="#111111" stroke="#111111" textLength="58.67" lengthAdjust="spacingAndGlyphs">Mw551</text>
<text x="398.84" y="309.8" font-size="16.5" font-weight="bold" fill="#3b2c6c" stroke="#3b2c6c" textLength="69.33" lengthAdjust="spacingAndGlyphs">Mw1192</text>
<text x="398.87" y="330.0" font-size="16.5" font-weight="bold" fill="#111111" stroke="#111111" textLength="58.57" lengthAdjust="spacingAndGlyphs">Mw431</text>
<text x="577.95" y="281.7" font-size="17.8" fill="#111111" stroke="#111111" textLength="108.14" lengthAdjust="spacingAndGlyphs">Recombinant</text>
<text x="573.35" y="301.7" font-size="17.8" fill="#111111" stroke="#111111" textLength="116.97" lengthAdjust="spacingAndGlyphs">Human Insulin</text>
<!-- panel c -->
<text x="1.42" y="431.5" font-size="20" font-weight="bold" fill="#111111" stroke="#111111" textLength="11.11" lengthAdjust="spacingAndGlyphs">c</text>
<text x="344.35" y="440.4" font-size="16.5" font-weight="bold" fill="#d7307e" stroke="#d7307e" textLength="59.82" lengthAdjust="spacingAndGlyphs">Mw672</text>
<text x="295.07" y="469.3" font-size="16.5" font-weight="bold" fill="#111111" stroke="#111111" textLength="58.78" lengthAdjust="spacingAndGlyphs">Mw654</text>
<text x="390.98" y="456.6" font-size="16.5" font-weight="bold" fill="#111111" stroke="#111111" textLength="58.05" lengthAdjust="spacingAndGlyphs">Mw551</text>
<text x="392.68" y="486.8" font-size="16.5" font-weight="bold" fill="#111111" stroke="#111111" textLength="58.36" lengthAdjust="spacingAndGlyphs">Mw431</text>
<text x="412.74" y="513.9" font-size="16.5" font-weight="bold" fill="#d7307e" stroke="#d7307e" textLength="69.52" lengthAdjust="spacingAndGlyphs">Mw1135</text>
<text x="266.04" y="516.7" font-size="16.5" font-weight="bold" fill="#d7307e" stroke="#d7307e" textLength="70.41" lengthAdjust="spacingAndGlyphs">Mw1067</text>
<text x="567.97" y="500.9" font-size="17.8" fill="#111111" stroke="#111111" textLength="127.19" lengthAdjust="spacingAndGlyphs">Insulin Glargine</text>
<g fill="none" stroke="#111111" stroke-width="2.9" stroke-linecap="butt" stroke-linejoin="miter">
<path d="M296.8 523.8 L288.9 561.3 M283.8 548.6 L288.9 561.3 L298.7 551.4"/>
<path d="M377.2 446.5 L369.5 484 M364.8 473 L369.5 484 L379.2 473.5"/>
<path d="M408.5 488.5 L413.6 559.9 M405.1 548.6 L413.6 559.9 L420.6 546.6"/>
</g>
<text x="315.05" y="637.7" font-size="17.8" fill="#111111" stroke="#111111" textLength="86.34" lengthAdjust="spacingAndGlyphs">Time (min)</text>
</svg>
</body></html>
